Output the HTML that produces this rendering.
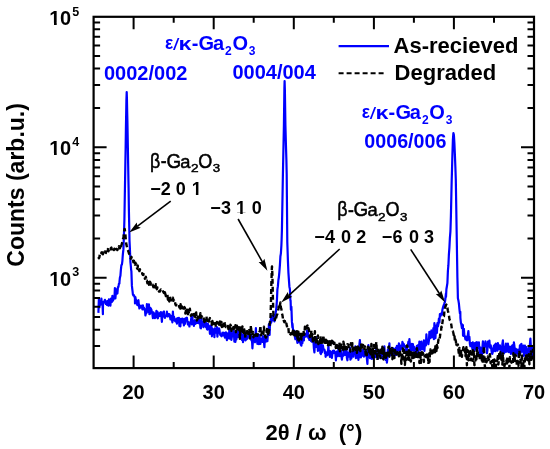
<!DOCTYPE html><html><head><meta charset="utf-8"><style>html,body{margin:0;padding:0;background:#fff;overflow:hidden;}svg{display:block}</style></head><body>
<svg width="550" height="449" viewBox="0 0 550 449">
<defs><clipPath id="pc"><rect x="93.6" y="16.8" width="440.4" height="351.3"/></clipPath></defs>
<g clip-path="url(#pc)" fill="none" stroke-linejoin="round">
<path d="M98.4,312.9 L98.9,298.2 L99.4,307.3 L99.9,303.9 L100.4,304 L100.9,304.5 L101.4,298.6 L101.9,303.9 L102.4,301.7 L102.9,314.2 L103,304.7 L103.4,302.7 L103.9,302.7 L104.4,301.2 L104.9,299.8 L105.4,301.6 L105.9,303.9 L106.4,301.5 L106.9,304.8 L107.4,301.1 L107.9,301.5 L108.4,305.7 L108.6,302.6 L108.9,299.3 L109.4,300 L109.9,301.8 L110.4,305.6 L110.9,298.8 L111.4,298.5 L111.9,301.8 L112.4,295.9 L112.9,297.2 L113,300.6 L113.4,299.3 L113.9,297.5 L114.4,298.6 L114.9,288.1 L115.4,298.4 L115.9,292.1 L116.4,289.3 L116.9,293.7 L117.4,293.3 L117.8,289 L117.9,287.2 L118.4,287.1 L118.9,283.8 L119.4,283.6 L119.5,281.5 L119.9,277.7 L120.4,275.8 L120.9,269.6 L121.4,265 L121.9,264.6 L122.4,260.8 L122.6,257.6 L122.9,253.8 L123.4,249.4 L123.9,236.4 L124.4,219.7 L124.9,190.5 L125.4,160.7 L125.6,150 L125.9,129.6 L126.2,112.4 L126.4,100.8 L126.7,92.1 L126.9,97.5 L127.2,112.5 L127.4,120.7 L127.9,149.7 L128.4,178.9 L128.6,189.4 L128.9,210.3 L129.4,234.8 L129.5,240.5 L129.9,248.5 L130.4,261.8 L130.9,266.9 L131.1,269.3 L131.4,271.4 L131.9,285.9 L132.4,290.1 L132.6,291.7 L132.9,294.5 L133.4,295.4 L133.9,295.2 L134.4,296.5 L134.9,297.8 L135,303.4 L135.4,297.2 L135.9,300.1 L136.4,301.6 L136.9,303.6 L137.4,305.1 L137.9,300.9 L138.4,300.1 L138.9,305 L139.4,308.5 L139.9,307.7 L140.4,306.7 L140.9,305.6 L141.4,307.5 L141.9,306.4 L142.4,309.4 L142.9,305.4 L143.4,308.1 L143.9,307.7 L144.4,309.7 L144.9,309.1 L145.4,315.5 L145.9,313 L146.4,313.3 L146.9,304.1 L147.4,308.9 L147.9,308.4 L148.4,311.8 L148.9,304.4 L149.4,314.1 L149.9,314 L150.4,307.8 L150.9,309 L151.4,309.7 L151.9,312.3 L152.4,314.1 L152.9,318.2 L153.4,312.3 L153.9,315.1 L154.4,313.6 L154.9,318.2 L155.4,315.6 L155.9,317.4 L156.4,310.8 L156.9,313.4 L157.4,311.7 L157.9,318.3 L158.4,316.1 L158.9,313.5 L159.4,313.2 L159.9,315.9 L160.4,312.6 L160.9,312.1 L161.4,316.1 L161.9,321.8 L162.4,314.3 L162.9,313.5 L163.4,311.9 L163.9,311.5 L164.4,316.8 L164.9,317.9 L165,315.5 L165.4,316.5 L165.9,316 L166.4,316.2 L166.9,311.6 L167.4,314.8 L167.9,316.5 L168.4,314.1 L168.9,315.1 L169.4,314.2 L169.9,315.8 L170.4,319.3 L170.9,315.8 L171,316.6 L171.4,319.4 L171.9,319.1 L172.4,322.3 L172.9,311.6 L173.4,320.2 L173.9,316.5 L174.4,318.5 L174.9,320.7 L175.4,321.5 L175.9,321.6 L176.4,319.2 L176.9,323.6 L177.4,318.2 L177.9,318.8 L178.4,321.7 L178.9,317.9 L179.4,326 L179.9,322.8 L180.4,326.3 L180.6,319.9 L180.9,318.9 L181.4,320.7 L181.9,322.5 L182.4,318.7 L182.9,321.6 L183.4,320.6 L183.9,325.5 L184.4,318.8 L184.9,324 L185.4,319.1 L185.9,318.2 L186.4,319 L186.9,317.7 L187.4,321.7 L187.9,324.5 L188.4,322 L188.9,323.4 L189.4,326.5 L189.9,322.5 L190.4,322.4 L190.9,321.1 L191.4,317.2 L191.9,324.3 L192.4,316.9 L192.9,324.2 L193.4,322.3 L193.9,325.9 L194.4,322.4 L194.9,320.2 L195.4,323.9 L195.9,321.2 L196.2,322.5 L196.4,323.2 L196.9,322.8 L197.4,322.8 L197.9,321 L198.4,323.1 L198.9,317.3 L199.4,323.5 L199.9,320.5 L200.4,327.8 L200.9,328.4 L201.4,318.8 L201.9,325.4 L202.4,324.8 L202.9,322.1 L203.4,327.2 L203.9,324.3 L204.4,320.5 L204.9,325.4 L205.4,326 L205.9,327 L206.4,323 L206.9,329 L207.4,329.6 L207.9,323.9 L208.4,325.6 L208.9,327.6 L209.4,326.3 L209.9,333.8 L210.4,329.1 L210.9,325.5 L211.4,326.4 L211.8,328.8 L211.9,336.3 L212.4,328.6 L212.9,329.8 L213.4,331.2 L213.9,329.6 L214.4,337.2 L214.9,328.4 L215.4,332.7 L215.9,331 L216.4,332.6 L216.9,327 L217.4,336.7 L217.9,330.7 L218.4,331.4 L218.9,328.4 L219.4,329.3 L219.9,333.7 L220.4,335.2 L220.9,334.6 L221.4,336.3 L221.9,334.8 L222.4,332.7 L222.9,335.5 L223.4,334.9 L223.9,332.7 L224.4,335.6 L224.9,337.6 L225.4,334.3 L225.9,332.4 L226.4,336.1 L226.9,340.2 L227.4,333.3 L227.9,333.8 L228.4,333.8 L228.9,338.4 L229.4,328.3 L229.9,335.8 L230.4,338.7 L230.9,332.1 L231.4,339.9 L231.9,336.8 L232.4,333.3 L232.9,335.9 L233.4,330.2 L233.9,333.5 L234.4,341.7 L234.9,332.6 L235.4,341.9 L235.9,335.5 L236.4,339.3 L236.9,336.1 L237.4,328.5 L237.9,334.2 L238.4,336.9 L238.9,332.4 L239.4,331.8 L239.9,337.8 L240.4,334.4 L240.9,330.9 L241.4,334.4 L241.9,339.8 L242.4,335.3 L242.9,340.2 L243,342.2 L243.4,337.2 L243.9,333.3 L244.4,332.8 L244.9,337.2 L245.4,340.4 L245.9,338.4 L246.4,339.4 L246.9,336.1 L247.4,338.7 L247.9,336.1 L248.4,336.7 L248.9,333.4 L249.4,332.5 L249.9,336.3 L250.4,334.2 L250.9,334.8 L251.4,340.5 L251.9,337.9 L252.4,348.3 L252.9,341.5 L253.4,336.2 L253.9,341.1 L254.4,339.7 L254.9,336.1 L255,342.3 L255.4,335.8 L255.9,328 L256.4,341.3 L256.9,336.5 L257.4,343.8 L257.9,336.4 L258.4,334.6 L258.9,344.1 L259.4,335 L259.9,339.5 L260.4,343.9 L260.9,339.3 L261.4,338.6 L261.9,339.3 L262.4,341.8 L262.9,336.1 L263.4,341.1 L263.9,341 L264.4,347.1 L264.9,337.8 L265.4,335.8 L265.9,341.6 L266,337.6 L266.4,339.8 L266.9,338.7 L267.4,341.2 L267.9,333.6 L268.4,334 L268.9,324.2 L269.4,327.9 L269.6,334.9 L269.9,326.4 L270.4,323.2 L270.9,318.6 L271.2,322.7 L271.4,321 L271.9,315.9 L272.4,320.5 L272.9,318.8 L273.4,319.7 L273.9,315.2 L274.4,321.4 L274.9,316.8 L275.4,314.2 L275.9,311.6 L276.4,307.1 L276.9,300.7 L277.4,289.4 L277.9,286.2 L278.4,280 L278.9,277 L279.4,271.6 L279.9,265.2 L280.4,256.5 L280.9,253.3 L281.4,245.3 L281.6,240.2 L281.9,230.8 L282.4,202.9 L282.9,174.7 L283.4,150.1 L283.9,125.7 L284.4,87.7 L284.6,81 L284.9,91.3 L285.4,124.9 L285.9,143.9 L286.4,160.3 L286.7,174.4 L286.9,197 L287.3,242.1 L287.4,245.1 L287.9,260.2 L288.4,272.3 L288.9,279.6 L289.4,286.7 L289.9,289.1 L290.4,300.7 L290.6,300.6 L290.9,309.8 L291.4,306.8 L291.9,321.4 L292.4,327.3 L292.5,323.9 L292.9,328.6 L293.4,331.8 L293.9,333 L294.4,330.7 L294.6,332.5 L294.9,337.1 L295.4,339.2 L295.9,336.4 L296.4,337.5 L296.9,339 L297.4,342.9 L297.9,336.5 L298.4,336.3 L298.9,342.2 L299.4,338.3 L299.9,340.6 L300.4,343.2 L300.8,344.7 L300.9,339.1 L301.4,345.6 L301.9,335.7 L302.4,343.1 L302.9,334.6 L303.4,334.7 L303.9,340.4 L304,336.6 L304.4,334.5 L304.9,334.7 L305.4,336.7 L305.9,333.9 L306.4,333.3 L306.9,336.5 L307,330.6 L307.4,331.5 L307.9,331.7 L308.4,337.9 L308.9,338 L309.4,339.9 L309.9,336.2 L310.4,336.6 L310.9,340.8 L311,336.6 L311.4,341.4 L311.9,341.7 L312.4,337.5 L312.9,340.4 L313.4,341 L313.9,348.4 L314.4,352.4 L314.9,343.5 L315.4,344.7 L315.9,337 L316.4,346.9 L316.9,346.8 L317.4,343.5 L317.9,351 L318.4,342.7 L318.9,348.2 L319.4,350 L319.9,345 L320.4,353.2 L320.9,354 L321,344.7 L321.4,344.6 L321.9,352.3 L322.4,349.9 L322.9,345.4 L323.4,348.9 L323.9,349.6 L324.4,349.5 L324.9,353.2 L325.4,351.5 L325.6,356.8 L325.9,355.3 L326.4,352.6 L326.9,354.2 L327.4,355.2 L327.9,352.9 L328.4,345.6 L328.9,353.8 L329.4,350.9 L329.9,357 L330.4,351.3 L330.9,353.1 L331.4,352.5 L331.9,358 L332.4,352.3 L332.9,350.8 L333.4,353.2 L333.9,350.5 L334.4,353 L334.9,352.5 L335.4,353.8 L335.9,360.5 L336.4,351.5 L336.9,353.4 L337.4,352.6 L337.9,356.2 L338.4,349 L338.9,351 L339.4,353.7 L339.9,356.1 L340.4,353.8 L340.9,352 L341.2,350.6 L341.4,356 L341.9,359.7 L342.4,355.3 L342.9,354.7 L343.4,355.7 L343.9,350.2 L344.4,352.7 L344.9,352.8 L345.4,355 L345.9,353.7 L346.4,348.9 L346.9,358.1 L347.4,360.3 L347.9,352.6 L348.4,355.1 L348.9,354.6 L349.4,356.6 L349.9,347.6 L350.4,359.7 L350.9,351.5 L351.4,358.3 L351.9,353.6 L352.4,351.7 L352.9,352.6 L353.4,356.7 L353.9,349.7 L354.4,351.6 L354.9,351.1 L355.4,346.3 L355.9,358.1 L356.4,355.3 L356.8,352.9 L356.9,357.6 L357.4,349.2 L357.9,352.7 L358.4,359.8 L358.9,356.9 L359.4,344.3 L359.9,340 L360.4,349 L360.9,357.4 L361.4,351.3 L361.9,352.4 L362.4,355.7 L362.9,349.8 L363.4,354.2 L363.9,356.6 L364.4,355.3 L364.9,355.1 L365.4,351.2 L365.9,355.7 L366.4,352 L366.9,358.9 L367.4,363.9 L367.9,350.9 L368.4,345.2 L368.9,352.2 L369.4,355.4 L369.9,358.1 L370.4,358.2 L370.9,350.9 L371.4,350.8 L371.9,359 L372.4,349.7 L372.9,358.3 L373.4,353.1 L373.9,357 L374.4,356.8 L374.9,357 L375.4,357.2 L375.9,350 L376.4,355.1 L376.9,354 L377.4,355.1 L377.9,358.7 L378.4,352.8 L378.9,351 L379.4,350.9 L379.9,352.5 L380.4,356.7 L380.9,350.4 L381.4,358.2 L381.9,354.7 L382.4,352.7 L382.9,348.2 L383.4,354.4 L383.9,356.1 L384.4,346.4 L384.9,358 L385.4,359.8 L385.9,354.6 L386.4,355.1 L386.9,362.6 L387.4,357.9 L387.9,349.5 L388,352.9 L388.4,352.3 L388.9,352.3 L389.4,343.4 L389.9,355.5 L390.4,349.9 L390.9,352.8 L391.4,351.4 L391.9,355.1 L392.4,350.3 L392.9,348.1 L393.4,353 L393.9,356.1 L394.4,349.1 L394.9,355.3 L395.4,350.8 L395.9,347.5 L396.4,355 L396.9,345.8 L397.4,352.5 L397.9,346.5 L398.4,349.9 L398.9,343.3 L399.4,344.6 L399.9,351.5 L400.4,348.1 L400.9,347.4 L401.4,345.5 L401.9,348.7 L402.4,341.8 L402.8,342.8 L402.9,346.4 L403.4,343.9 L403.9,344.4 L404.4,346.7 L404.9,346.5 L405.4,346.2 L405.9,353.2 L406.4,350.8 L406.9,351.6 L407.4,346.9 L407.9,345.1 L408.4,341.6 L408.9,345.7 L409.4,339.2 L409.9,344.8 L410.4,349.9 L410.9,353 L411.4,350.6 L411.9,343.8 L412.4,348.8 L412.9,344.1 L413.4,350.1 L413.9,346.6 L414.4,350.2 L414.9,356.6 L415.4,350.4 L415.9,355.7 L416.4,347.7 L416.9,345.8 L417.4,352 L417.9,353.4 L418.4,344.9 L418.9,347.3 L419.4,341.6 L419.9,346.3 L420.4,350.3 L420.6,346.7 L420.9,344.9 L421.4,341.6 L421.9,348 L422.4,349.3 L422.9,348.2 L423.4,346.5 L423.9,340.4 L424.4,351 L424.9,343.8 L425.4,342.9 L425.9,345.4 L426.4,334.4 L426.9,341.2 L427.4,340.3 L427.9,341.4 L428.4,344.2 L428.9,340.5 L429.4,331.9 L429.6,336.8 L429.9,338.4 L430.4,337.6 L430.9,332.2 L431.4,330.5 L431.9,337.4 L432.4,336.2 L432.9,334.4 L433.4,328.2 L433.9,339.2 L434.4,323.2 L434.9,330.8 L435.4,338.1 L435.9,329.9 L436.4,330.3 L436.7,325.2 L436.9,332.9 L437.4,323.2 L437.9,326.4 L438.4,324.2 L438.9,318.7 L439.4,322.5 L439.9,314 L440.3,314.7 L440.4,316.3 L440.9,313.7 L441.4,314.7 L441.9,314.6 L442.4,309.8 L442.9,307.7 L443.4,306.1 L443.8,305 L443.9,307.7 L444.4,303 L444.9,302.4 L445.4,298.5 L445.9,293.7 L446,297 L446.4,289.2 L446.9,286.2 L447.4,283.1 L447.9,271 L448.4,265.2 L448.9,254.3 L449.4,247.6 L449.9,237.8 L450.4,231.6 L450.5,229.3 L450.9,216.1 L451.4,193.7 L451.7,180.2 L451.9,173.6 L452.4,154.8 L452.9,139.7 L453.4,133.1 L453.9,135.1 L454.4,143.2 L454.9,155 L455.4,167.9 L455.8,179.5 L455.9,185.4 L456.4,216.3 L456.6,229.2 L456.9,247.2 L457.4,277.5 L457.7,289.4 L457.9,298.3 L458.4,300.4 L458.9,303.7 L459.4,308.9 L459.9,313.4 L460.3,311.8 L460.4,317.8 L460.9,322.8 L461.4,324.6 L461.9,328.2 L462.4,324.6 L462.9,325.2 L463,335.2 L463.4,335.9 L463.9,328.8 L464.4,336 L464.9,336.6 L465.4,339.4 L465.7,338.7 L465.9,336.6 L466.4,339.7 L466.9,340.3 L467.4,340.2 L467.9,334.5 L468.4,331 L468.9,339.4 L469.4,336.9 L469.9,344.1 L470.4,346.2 L470.9,345 L471.4,343 L471.9,344.9 L472.4,349.1 L472.8,342.3 L472.9,348.4 L473.4,347.8 L473.9,346.3 L474.4,350.8 L474.9,343 L475.4,349.2 L475.9,342.5 L476.4,343.2 L476.9,342.2 L477.4,347.9 L477.9,342.9 L478.4,346.6 L478.9,342.3 L479.4,350.6 L479.9,353.6 L480.4,347.7 L480.9,353 L481.4,349.1 L481.9,355.2 L482.4,347.5 L482.9,341.3 L483.4,352.8 L483.9,346.9 L484.4,343.5 L484.9,345 L485.4,341.4 L485.9,346.9 L486.4,343.6 L486.9,353.2 L487.4,350.2 L487.9,341.5 L488.4,342.1 L488.9,345.7 L489.4,340.7 L489.9,347.5 L490.4,347.8 L490.6,345.1 L490.9,346 L491.4,349.9 L491.9,353.5 L492.4,353.8 L492.9,348.3 L493.4,351.4 L493.9,345.5 L494.4,349.8 L494.9,344.7 L495.4,351.1 L495.9,343.7 L496.4,344.8 L496.9,348.4 L497.4,350.6 L497.9,343.1 L498.4,346.5 L498.9,349.1 L499.4,349.4 L499.9,345.4 L500.4,349 L500.9,347.6 L501.4,354 L501.9,350.8 L502.4,343.7 L502.9,340.4 L503.4,349.1 L503.9,353.3 L504.4,349.5 L504.9,352.2 L505.4,347 L505.9,343.7 L506.4,351.7 L506.9,349.3 L507.4,351.5 L507.9,343.7 L508.4,349.7 L508.5,346.6 L508.9,352.1 L509.4,346.8 L509.9,346.8 L510.4,346.9 L510.9,353.9 L511.4,349.2 L511.9,346.3 L512.4,345.3 L512.9,345.2 L513.4,354.8 L513.9,342.3 L514.4,346 L514.9,351.7 L515.4,353.8 L515.9,348.8 L516.4,352.4 L516.9,352.3 L517.4,353.2 L517.9,349.6 L518.4,355.8 L518.9,350.3 L519.4,355.4 L519.9,345.4 L520.4,353.2 L520.9,344.8 L521.4,343.9 L521.9,351.6 L522.4,346.6 L522.9,351.5 L523.4,345.7 L523.9,355.9 L524.4,349.9 L524.9,345.5 L525.4,350.6 L525.9,353.3 L526.4,347 L526.9,351.9 L527.4,357.8 L527.9,353.3 L528.4,350 L528.9,347.9 L529.4,352.3 L529.9,344.3 L530.4,338.5 L530.9,347.6 L531.4,346 L531.9,356.9 L532.4,350.7 L532.9,346.4 L533,345.8" stroke="#0000ff" stroke-width="2.2"/>
<path d="M98.4,257.1 L98.9,258.3 L99.4,257.2 L99.9,253.7 L100.4,253.2 L100.9,252.2 L101.4,253.3 L101.5,252.4 L101.9,253.4 L102.4,249.8 L102.9,254.3 L103.4,252 L103.9,253 L104.4,251.9 L104.9,251.5 L105.4,252.5 L105.9,252.9 L106,251.5 L106.4,251.5 L106.9,252.4 L107.4,250.1 L107.9,249.1 L108.4,251.3 L108.9,249.7 L109.4,247.8 L109.9,249 L110.4,249.2 L110.9,248.1 L111.4,247.6 L111.5,249.5 L111.9,250.6 L112.4,249 L112.9,248.3 L113.4,249.7 L113.9,250.1 L114.4,248.7 L114.9,249.7 L115,250.3 L115.4,248.7 L115.9,247.8 L116.4,249.3 L116.9,249.1 L117.4,250.1 L117.9,247 L118.4,247.6 L118.9,247.3 L119,246.1 L119.4,248.2 L119.9,248.2 L120.4,245.9 L120.9,247.5 L121.4,245 L121.6,244.5 L121.9,243.6 L122.4,242 L122.9,239.2 L123.4,237.2 L123.6,236.2 L123.9,233.3 L124.4,229.6 L124.6,228.9 L124.9,230.1 L125.4,234.5 L125.9,240.5 L126.4,244.8 L126.9,246.6 L127.4,248.9 L127.9,250.1 L128.4,251.7 L128.7,252.1 L128.9,253.2 L129.4,254.3 L129.9,255.2 L130.4,256.8 L130.5,257.5 L130.9,258.7 L131.4,256.8 L131.9,259.6 L132.4,260 L132.9,260.3 L133,259.6 L133.4,262.2 L133.9,260.8 L134.4,263.2 L134.9,264.6 L135.4,262.6 L135.9,264.6 L136.4,264.3 L136.5,265.9 L136.9,267.7 L137.4,268.9 L137.9,265.8 L138.4,267.6 L138.9,269.5 L139.4,271.1 L139.8,270.4 L139.9,269.3 L140.4,271.2 L140.9,271.5 L141.4,272.1 L141.9,272.2 L142.4,274.2 L142.8,274.7 L142.9,274.3 L143.4,274.9 L143.9,274.3 L144.4,275.9 L144.9,278.7 L145.4,277.7 L145.9,276.8 L146.4,281 L146.9,280.6 L147.4,283.2 L147.9,281.1 L148.2,280.7 L148.4,279.5 L148.9,283.8 L149.4,286 L149.9,281.7 L150.4,282.4 L150.9,284.5 L151.4,282.9 L151.9,284.1 L152.4,284.3 L152.9,285.5 L153.4,287.2 L153.9,286 L154.4,287.7 L154.9,286 L155.4,287.5 L155.9,284.1 L156.4,285.5 L156.9,289.3 L157.4,287.4 L157.9,289.6 L158.4,289.9 L158.9,291.4 L159.4,290.9 L159.9,291.6 L160.4,290.1 L160.9,289.4 L161.4,289.7 L161.9,290.4 L162.4,289.6 L162.9,290.9 L163.4,292.1 L163.9,293 L164.4,292.4 L164.9,290 L165,293.3 L165.4,294.1 L165.9,296.1 L166.4,295.6 L166.9,293.9 L167.4,294.2 L167.9,299.7 L168.4,297.9 L168.9,300.4 L169.4,301.5 L169.9,296.4 L170.4,299.2 L170.9,299.8 L171,300.1 L171.4,300.4 L171.9,300.2 L172.4,300.6 L172.9,297.7 L173.4,300.9 L173.9,300.2 L174.4,302.4 L174.9,301.7 L175.4,304.4 L175.9,305.3 L176.4,304.7 L176.9,305.2 L177.4,305.1 L177.9,304.3 L178.4,305.4 L178.9,305 L179.4,307.4 L179.9,306.9 L180.4,308.6 L180.6,304.3 L180.9,309.7 L181.4,306.1 L181.9,306.5 L182.4,308.1 L182.9,307.5 L183.4,309.9 L183.9,308.1 L184.4,307.1 L184.9,307.9 L185.4,313.6 L185.9,310.7 L186.4,307.9 L186.9,311.1 L187.4,307.4 L187.9,316.2 L188.4,308 L188.9,313.4 L189.4,313.8 L189.9,308.8 L190.4,313.7 L190.9,315.7 L191.4,314.6 L191.9,314.3 L192.4,316.3 L192.9,314.5 L193.4,315.2 L193.9,314.1 L194.4,316.4 L194.9,312.3 L195.4,317.3 L195.9,314 L196.2,312.5 L196.4,316.6 L196.9,320.5 L197.4,318.7 L197.9,314.8 L198.4,318.4 L198.9,315.4 L199.4,316.5 L199.9,317.3 L200.4,313.1 L200.9,317.8 L201.4,315.8 L201.9,316.6 L202.4,315.4 L202.9,315.5 L203.4,316.7 L203.9,320.2 L204.4,322 L204.9,319 L205.4,321.3 L205.9,318.9 L206.4,316 L206.9,320.1 L207.4,320.8 L207.9,319.3 L208.4,320.9 L208.9,321.6 L209.4,319 L209.9,318 L210.4,320.6 L210.9,320.8 L211.4,320.7 L211.8,323.4 L211.9,324.9 L212.4,320.9 L212.9,323.3 L213.4,323.9 L213.9,323.6 L214.4,324.4 L214.9,321.7 L215.4,324.2 L215.9,326.9 L216.4,324.6 L216.9,321.9 L217.4,324.5 L217.9,326 L218.4,324.3 L218.9,322.5 L219.4,327.1 L219.9,321.4 L220.4,325.2 L220.9,324.3 L221.4,321.9 L221.9,327.1 L222.4,325.5 L222.9,322.4 L223.4,326.3 L223.9,324.2 L224.4,321.2 L224.9,324 L225.4,326.2 L225.9,327.1 L226.4,326.3 L226.9,326.1 L227.4,327.2 L227.9,325.9 L228.4,329.1 L228.9,327 L229.4,327.5 L229.9,328.2 L230.4,324.8 L230.9,325.8 L231.4,330.9 L231.9,328.5 L232.4,327.2 L232.9,328.8 L233.4,327.1 L233.9,329 L234.4,327.1 L234.9,329.4 L235.4,325.3 L235.9,332.2 L236.4,328.1 L236.9,325.7 L237.4,329.1 L237.9,328.9 L238.4,330.2 L238.9,327.3 L239.4,331.1 L239.9,338.9 L240.4,327.4 L240.9,331.4 L241.4,329.9 L241.9,331.2 L242.4,326.5 L242.9,328.2 L243,332.1 L243.4,331 L243.9,335.1 L244.4,329.5 L244.9,331.7 L245.4,338.5 L245.9,329.6 L246.4,329.4 L246.9,331.5 L247.4,331.6 L247.9,333.8 L248.4,332.2 L248.9,330.1 L249.4,332.5 L249.9,338.5 L250.4,335.2 L250.9,325.3 L251.4,331.9 L251.9,330.1 L252.4,333.8 L252.9,331.9 L253.4,337.2 L253.9,334.7 L254.4,334.7 L254.9,333 L255,332.4 L255.4,333.4 L255.9,335.8 L256.4,333.9 L256.9,331.7 L257.4,335.8 L257.9,333.1 L258.4,332.5 L258.9,330.7 L259.4,331.3 L259.9,331.2 L260.4,325.8 L260.9,335.4 L261.4,334.3 L261.9,332.3 L262.4,335.5 L262.9,334 L263.4,333.9 L263.9,326.7 L264.4,332.4 L264.9,334.3 L265.4,337 L265.9,337.6 L266.4,336.6 L266.9,330.1 L267.4,327.5 L267.9,334.4 L268,333.1 L268.4,334.5 L268.9,330.7 L269.4,328.6 L269.9,322 L270.4,320.7 L270.9,304.8 L271.4,282.3 L271.9,267.3 L272,266.4 L272.4,275 L272.9,297.4 L273.4,315.2 L273.5,315.7 L273.9,315.1 L274.4,316 L274.9,320 L275.4,317.7 L275.9,319.4 L276,318.6 L276.4,316.7 L276.9,315 L277.4,313.9 L277.9,311.3 L278.4,309 L278.9,304.5 L279.4,303.8 L279.8,303.9 L279.9,305.8 L280.4,302.4 L280.9,307.6 L281.4,309.2 L281.9,313.4 L282.4,314.9 L282.9,318.2 L283,320.3 L283.4,319.6 L283.9,321 L284.4,322.2 L284.9,321 L285.4,324.5 L285.9,323.9 L286.4,323.5 L286.8,325.9 L286.9,325.7 L287.4,328.9 L287.9,328.2 L288.4,328.1 L288.9,333.8 L289.4,333.8 L289.9,335.4 L290.4,334.6 L290.9,333.3 L291.4,332.9 L291.5,333.3 L291.9,336.6 L292.4,334.6 L292.9,330.6 L293.4,334.5 L293.9,331.1 L294.4,335.4 L294.9,331.9 L295.4,331.9 L295.9,335.6 L296.4,335.2 L296.9,331.1 L297.4,337.6 L297.9,341.4 L298.4,331.8 L298.9,340.6 L299.4,334 L299.9,334.6 L300.4,335.5 L300.9,332.1 L301.4,339.5 L301.9,337.3 L302.4,334 L302.9,335 L303.4,330.9 L303.9,332.9 L304.4,334.7 L304.9,326.8 L305.4,328.5 L305.9,328.6 L306.4,329.8 L306.9,330 L307,326 L307.4,325.5 L307.9,328.9 L308.4,328.1 L308.9,329.4 L309.4,334.2 L309.9,337.1 L310.4,334.7 L310.9,334.4 L311,336.5 L311.4,330.4 L311.9,335.9 L312.4,333.6 L312.9,343.4 L313.4,339.3 L313.9,338.1 L314.4,337.5 L314.9,331.3 L315.4,340.7 L315.9,343.7 L316.4,337.2 L316.9,341.5 L317.4,341.8 L317.9,335.5 L318,342.7 L318.4,344.1 L318.9,341 L319.4,340.3 L319.9,343 L320.4,336.2 L320.9,341.2 L321.4,344.1 L321.9,337.4 L322.4,344.2 L322.9,340.1 L323.4,335.2 L323.9,341.3 L324.4,338.8 L324.9,342.8 L325.4,338.4 L325.6,345.2 L325.9,339.8 L326.4,343.3 L326.9,340.6 L327.4,341.6 L327.9,346.4 L328.4,343.5 L328.9,341.8 L329.4,339.3 L329.9,347 L330.4,345.9 L330.9,342.7 L331.4,344.7 L331.9,340.8 L332.4,341.1 L332.9,341.8 L333.4,345.8 L333.9,345.8 L334.4,342.6 L334.9,347.6 L335.4,347.9 L335.9,346.1 L336.4,349.1 L336.9,344.9 L337.4,345.6 L337.9,347.7 L338.4,346.1 L338.9,349 L339.4,342.3 L339.9,351.3 L340.4,344 L340.9,346.2 L341.2,342.2 L341.4,348.9 L341.9,351.2 L342.4,350.6 L342.9,349.9 L343.4,341.8 L343.9,344.5 L344.4,345.6 L344.9,344.1 L345.4,351.1 L345.9,348 L346.4,347.3 L346.9,349.1 L347.4,344.3 L347.9,344.4 L348.4,344.6 L348.9,349.3 L349.4,348.8 L349.9,349.7 L350.4,351.5 L350.9,343.1 L351.4,345.9 L351.9,348.4 L352.4,343.3 L352.9,346.1 L353.4,351.5 L353.9,351.9 L354.4,351.8 L354.9,348.3 L355.4,347.5 L355.9,352 L356.4,347.1 L356.8,349.6 L356.9,353 L357.4,347.2 L357.9,346.4 L358.4,348.6 L358.9,350.8 L359.4,350.5 L359.9,349.5 L360.4,351 L360.9,343.5 L361.4,346.2 L361.9,350 L362.4,346.2 L362.9,344.8 L363.4,345.4 L363.9,346.6 L364.4,349.4 L364.9,346.4 L365.4,351.1 L365.9,356.5 L366.4,349.9 L366.9,355.2 L367.4,351.8 L367.9,346.7 L368.4,350 L368.9,347.4 L369.4,353.9 L369.9,346.9 L370.4,356.2 L370.9,353.5 L371.4,343.9 L371.9,354.4 L372.4,357.3 L372.9,348.6 L373.4,355.2 L373.9,344.9 L374.4,352.6 L374.9,345.5 L375.4,353.5 L375.9,345 L376.4,341.9 L376.9,353.3 L377.4,360.3 L377.9,349.6 L378.4,354.9 L378.9,352.3 L379.4,350.7 L379.9,354.2 L380.4,358.1 L380.9,347.3 L381.4,354.1 L381.9,353.3 L382.4,346.6 L382.9,358.1 L383.4,359.4 L383.9,348.5 L384.4,358.6 L384.9,352.3 L385.4,351.5 L385.9,357.8 L386.4,353 L386.9,353.4 L387.4,358 L387.9,357.2 L388,355.7 L388.4,347 L388.9,346.4 L389.4,356.7 L389.9,349 L390.4,353.2 L390.9,348.6 L391.4,352.1 L391.9,348 L392.4,359.2 L392.9,349.2 L393.4,352.7 L393.9,352.6 L394.4,358.1 L394.9,348 L395.4,353.5 L395.9,352.9 L396.4,355.9 L396.9,355.8 L397.4,352.3 L397.9,355.1 L398.4,352.8 L398.9,356.3 L399.4,354.1 L399.9,352 L400.4,354.6 L400.9,356.2 L401.4,363.9 L401.9,352.9 L402.4,356.2 L402.8,360.9 L402.9,346.7 L403.4,348.1 L403.9,350.3 L404.4,354.7 L404.9,365 L405.4,356.8 L405.9,360.1 L406.4,354.4 L406.9,345.4 L407.4,346.1 L407.9,359.5 L408.4,356.2 L408.9,350.3 L409.4,360.1 L409.9,349.3 L410.4,360.2 L410.9,361.5 L411.4,352.6 L411.9,351.2 L412.4,359.2 L412.9,351.3 L413.4,359.3 L413.9,351 L414.4,359.1 L414.9,356.2 L415.4,354.1 L415.9,352.3 L416.4,356.9 L416.9,348.2 L417.4,354.8 L417.9,354.4 L418.4,358.8 L418.9,350.9 L419.4,363 L419.9,354.7 L420.4,351.3 L420.6,361.7 L420.9,362.8 L421.4,355.2 L421.9,352.3 L422.4,356 L422.9,353 L423.4,354.5 L423.9,362 L424.4,357.2 L424.9,356.1 L425.4,356.7 L425.9,355 L426.4,358.5 L426.9,358.4 L427.4,353.3 L427.9,355 L428.4,364 L428.9,355.9 L429.4,353.3 L429.6,362 L429.9,353.9 L430.4,349.4 L430.9,356 L431.4,349.6 L431.9,350.7 L432.4,353.4 L432.9,351.3 L433.4,348.4 L433.9,348.6 L434.4,347.9 L434.9,353.5 L435.4,346.1 L435.9,345.9 L436.4,351.1 L436.9,345 L437.4,348.1 L437.5,347.6 L437.9,343.7 L438.4,339.8 L438.9,341.1 L439.4,339.1 L439.9,337 L440.4,333.1 L440.9,332.2 L441,332 L441.4,326.6 L441.9,327.2 L442.4,322.8 L442.9,319.1 L443.4,316.7 L443.9,316.3 L444.2,314 L444.4,310.3 L444.9,309.3 L445.4,306.7 L445.9,305.4 L446,305.1 L446.4,304.6 L446.9,307.7 L447.4,308 L447.9,310.7 L448.4,312.9 L448.9,315.1 L449.4,318.8 L449.9,320.4 L450.4,321.1 L450.9,322.8 L451.4,325.3 L451.9,329.3 L452.4,330.1 L452.7,331.3 L452.9,331.3 L453.4,333.2 L453.9,335.9 L454.4,334.3 L454.9,342 L455.4,339.5 L455.9,341.4 L456.3,346 L456.4,344.2 L456.9,345.1 L457.4,345.2 L457.9,344.5 L458.4,349.6 L458.9,354.4 L459.4,347.9 L459.9,357.2 L460.4,348.6 L460.9,350.7 L461.4,355.9 L461.6,354 L461.9,356.8 L462.4,351.3 L462.9,350.3 L463.4,347.2 L463.9,349.9 L464.4,350.5 L464.9,349.2 L465.4,356.2 L465.9,352.4 L466.4,347.2 L466.9,365.2 L467.4,351.9 L467.9,350.3 L468.4,360.4 L468.9,360.2 L469.4,350.9 L469.9,349.6 L470.4,351.6 L470.9,360.3 L471.4,354.5 L471.9,352.6 L472.4,355.8 L472.8,360.9 L472.9,350.3 L473.4,354.5 L473.9,350.5 L474.4,365.2 L474.9,363.9 L475.4,360.4 L475.9,356 L476.4,359.4 L476.9,348 L477.4,358 L477.9,351.4 L478.4,351.5 L478.9,354.2 L479.4,355.8 L479.9,359.8 L480.4,360.4 L480.9,358.7 L481.4,353.6 L481.9,360.6 L482.4,357.3 L482.9,362.9 L483.4,354.1 L483.9,346.3 L484.4,356.1 L484.9,367.5 L485.4,360.4 L485.9,357.6 L486.4,362.3 L486.9,360.7 L487.4,360.6 L487.9,356.5 L488.4,359.1 L488.9,359.7 L489.4,356.1 L489.9,354.1 L490.4,359.6 L490.6,363.2 L490.9,361.8 L491.4,361.2 L491.9,361.3 L492.4,367.6 L492.9,360.3 L493.4,363.8 L493.9,367.6 L494.4,359.5 L494.9,360.5 L495.4,364 L495.9,366.8 L496.4,360.8 L496.9,361.1 L497.4,359.9 L497.9,354.3 L498.4,364.5 L498.9,358.5 L499.4,352.1 L499.9,359.1 L500.4,352.1 L500.9,355.3 L501.4,359.9 L501.9,355.8 L502.4,364.6 L502.9,353.4 L503.4,361.1 L503.9,362.4 L504.4,366.4 L504.9,364.1 L505.4,361 L505.9,360.4 L506.4,359.8 L506.9,365.1 L507.4,357.1 L507.9,362.4 L508.4,359.6 L508.5,361.1 L508.9,358.9 L509.4,367.6 L509.9,357.1 L510.4,361.2 L510.9,361.3 L511.4,362.7 L511.9,362 L512.4,361.9 L512.9,364.3 L513.4,353.3 L513.9,360 L514.4,354.5 L514.9,360.9 L515.4,354.6 L515.9,355.6 L516.4,359.6 L516.9,366 L517.4,362.3 L517.9,361.1 L518.4,365.9 L518.9,355.5 L519.4,350.4 L519.9,357.8 L520.4,358.4 L520.9,365 L521.4,367.6 L521.9,353.6 L522.4,367.6 L522.9,366.2 L523.4,363 L523.9,360.9 L524.4,367.6 L524.9,359.5 L525.4,357 L525.9,359.6 L526.4,353 L526.9,361 L527.4,358.4 L527.9,360.2 L528.4,360.3 L528.9,354.1 L529.4,364.3 L529.9,354.2 L530.4,362.3 L530.9,351.5 L531.4,359.9 L531.9,354.7 L532.4,358.3 L532.9,355.3 L533,348.8" stroke="#000" stroke-width="2.4" stroke-dasharray="5 3"/>
</g>
<path d="M133.6,368.1v-12.5M133.6,16.8v12.5M213.7,368.1v-12.5M213.7,16.8v12.5M293.8,368.1v-12.5M293.8,16.8v12.5M373.9,368.1v-12.5M373.9,16.8v12.5M453.9,368.1v-12.5M453.9,16.8v12.5M534,368.1v-12.5M534,16.8v12.5M173.7,368.1v-6M173.7,16.8v6M253.7,368.1v-6M253.7,16.8v6M333.8,368.1v-6M333.8,16.8v6M413.9,368.1v-6M413.9,16.8v6M494,368.1v-6M494,16.8v6M93.6,277.8h13M534,277.8h-13M93.6,147.2h13M534,147.2h-13M93.6,346.1h6.5M534,346.1h-6.5M93.6,329.8h6.5M534,329.8h-6.5M93.6,317.1h6.5M534,317.1h-6.5M93.6,306.8h6.5M534,306.8h-6.5M93.6,298h6.5M534,298h-6.5M93.6,290.5h6.5M534,290.5h-6.5M93.6,283.8h6.5M534,283.8h-6.5M93.6,238.5h6.5M534,238.5h-6.5M93.6,215.5h6.5M534,215.5h-6.5M93.6,199.2h6.5M534,199.2h-6.5M93.6,186.5h6.5M534,186.5h-6.5M93.6,176.2h6.5M534,176.2h-6.5M93.6,167.4h6.5M534,167.4h-6.5M93.6,159.9h6.5M534,159.9h-6.5M93.6,153.2h6.5M534,153.2h-6.5M93.6,107.9h6.5M534,107.9h-6.5M93.6,84.9h6.5M534,84.9h-6.5M93.6,68.6h6.5M534,68.6h-6.5M93.6,55.9h6.5M534,55.9h-6.5M93.6,45.6h6.5M534,45.6h-6.5M93.6,36.8h6.5M534,36.8h-6.5M93.6,29.3h6.5M534,29.3h-6.5M93.6,22.6h6.5M534,22.6h-6.5" stroke="#000" stroke-width="2" fill="none"/>
<rect x="93.6" y="16.8" width="440.4" height="351.3" fill="none" stroke="#000" stroke-width="2.2"/>
<path d="M338.6,46.1H389" stroke="#0000ff" stroke-width="2.3"/>
<path d="M338.6,73.2H384" stroke="#000" stroke-width="2" stroke-dasharray="5 3"/>
<path d="M170.7,201.1L137.2,226.4" stroke="#000" stroke-width="1.6"/><path d="M129.2,232.4L136.8,222.5L137.3,226.3L140.8,227.8Z" fill="#000"/>
<path d="M238.1,219L262.5,262.1" stroke="#000" stroke-width="1.6"/><path d="M267.4,270.8L258.6,262L262.4,261.9L264.4,258.7Z" fill="#000"/>
<path d="M339.7,249L288.6,295.7" stroke="#000" stroke-width="1.6"/><path d="M281.2,302.4L287.8,291.9L288.7,295.5L292.3,296.7Z" fill="#000"/>
<path d="M410.7,249.4L439.7,294" stroke="#000" stroke-width="1.6"/><path d="M445.1,302.4L435.8,294.1L439.5,293.8L441.3,290.5Z" fill="#000"/>
<clipPath id="c1_1"><rect x="48.3" y="8.8" width="14" height="14"/><rect x="54" y="22.3" width="2.7" height="4"/></clipPath><text clip-path="url(#c1_1)" x="49.3" y="24.8" font-family="Liberation Sans, Arial, sans-serif" font-size="20" font-weight="bold" fill="#000">1</text>
<text x="60.1" y="24.8" font-family="Liberation Sans, Arial, sans-serif" font-size="20" font-weight="bold" fill="#000" >0</text>
<text x="72.2" y="15.6" font-family="Liberation Sans, Arial, sans-serif" font-size="12.5" font-weight="bold" fill="#000" >5</text>
<clipPath id="c1_2"><rect x="48.3" y="139" width="14" height="14"/><rect x="54" y="152.5" width="2.7" height="4"/></clipPath><text clip-path="url(#c1_2)" x="49.3" y="155" font-family="Liberation Sans, Arial, sans-serif" font-size="20" font-weight="bold" fill="#000">1</text>
<text x="60.1" y="155" font-family="Liberation Sans, Arial, sans-serif" font-size="20" font-weight="bold" fill="#000" >0</text>
<text x="72.2" y="145.8" font-family="Liberation Sans, Arial, sans-serif" font-size="12.5" font-weight="bold" fill="#000" >4</text>
<clipPath id="c1_3"><rect x="48.3" y="269.5" width="14" height="14"/><rect x="54" y="283" width="2.7" height="4"/></clipPath><text clip-path="url(#c1_3)" x="49.3" y="285.5" font-family="Liberation Sans, Arial, sans-serif" font-size="20" font-weight="bold" fill="#000">1</text>
<text x="60.1" y="285.5" font-family="Liberation Sans, Arial, sans-serif" font-size="20" font-weight="bold" fill="#000" >0</text>
<text x="72.2" y="276.3" font-family="Liberation Sans, Arial, sans-serif" font-size="12.5" font-weight="bold" fill="#000" >3</text>
<text x="133.6" y="399.3" font-family="Liberation Sans, Arial, sans-serif" font-size="20" font-weight="bold" fill="#000" text-anchor="middle">20</text>
<text x="213.7" y="399.3" font-family="Liberation Sans, Arial, sans-serif" font-size="20" font-weight="bold" fill="#000" text-anchor="middle">30</text>
<text x="293.8" y="399.3" font-family="Liberation Sans, Arial, sans-serif" font-size="20" font-weight="bold" fill="#000" text-anchor="middle">40</text>
<text x="373.9" y="399.3" font-family="Liberation Sans, Arial, sans-serif" font-size="20" font-weight="bold" fill="#000" text-anchor="middle">50</text>
<text x="453.9" y="399.3" font-family="Liberation Sans, Arial, sans-serif" font-size="20" font-weight="bold" fill="#000" text-anchor="middle">60</text>
<text x="534" y="399.3" font-family="Liberation Sans, Arial, sans-serif" font-size="20" font-weight="bold" fill="#000" text-anchor="middle">70</text>
<text x="24.2" y="184.9" font-family="Liberation Sans, Arial, sans-serif" font-size="23" font-weight="bold" fill="#000" text-anchor="middle" transform="rotate(-90 24.2 184.9)">Counts (arb.u.)</text>
<text x="265.5" y="440" font-family="Liberation Sans, Arial, sans-serif" font-size="22" font-weight="bold" fill="#000" >2θ / ω&#160; (°)</text>
<text x="393.6" y="53.1" font-family="Liberation Sans, Arial, sans-serif" font-size="22" font-weight="bold" fill="#000" >As-recieved</text>
<text x="394.6" y="80.4" font-family="Liberation Sans, Arial, sans-serif" font-size="22" font-weight="bold" fill="#000" >Degraded</text>
<text transform="matrix(0.1734 0 0 0.1789 164.9 49.3)" font-family="Liberation Sans, Arial, sans-serif" font-size="100" font-weight="bold" fill="#0000ff" >ε</text><text transform="matrix(0.2304 0 0 0.1729 172.9 49.5)" font-family="Liberation Sans, Arial, sans-serif" font-size="100" font-weight="normal" fill="#0000ff" stroke="#0000ff" stroke-width="0.05">/</text><text transform="matrix(0.2319 0 0 0.1817 178.6 49.5)" font-family="Liberation Sans, Arial, sans-serif" font-size="100" font-weight="bold" fill="#0000ff" >κ</text><text font-family="Liberation Sans, Arial, sans-serif" font-size="20" font-weight="bold" fill="#0000ff"><tspan x="191.7" y="49.8">-</tspan><tspan x="198.5" y="49.8">G</tspan><tspan x="212.9" y="49.8">a</tspan><tspan x="225.1" y="54.7" font-size="12">2</tspan><tspan x="232.4" y="49.8">O</tspan><tspan x="248.8" y="54.7" font-size="12">3</tspan></text>
<text transform="matrix(0.1734 0 0 0.1789 361.8 118.4)" font-family="Liberation Sans, Arial, sans-serif" font-size="100" font-weight="bold" fill="#0000ff" >ε</text><text transform="matrix(0.2304 0 0 0.1729 369.8 118.6)" font-family="Liberation Sans, Arial, sans-serif" font-size="100" font-weight="normal" fill="#0000ff" stroke="#0000ff" stroke-width="0.05">/</text><text transform="matrix(0.2319 0 0 0.1817 375.5 118.6)" font-family="Liberation Sans, Arial, sans-serif" font-size="100" font-weight="bold" fill="#0000ff" >κ</text><text font-family="Liberation Sans, Arial, sans-serif" font-size="20" font-weight="bold" fill="#0000ff"><tspan x="388.6" y="118.9">-</tspan><tspan x="395.4" y="118.9">G</tspan><tspan x="409.8" y="118.9">a</tspan><tspan x="422" y="123.8" font-size="12">2</tspan><tspan x="429.3" y="118.9">O</tspan><tspan x="445.7" y="123.8" font-size="12">3</tspan></text>
<text x="104" y="79.5" font-family="Liberation Sans, Arial, sans-serif" font-size="20" font-weight="bold" fill="#0000ff" >0002/002</text>
<text x="232.4" y="79.4" font-family="Liberation Sans, Arial, sans-serif" font-size="20" font-weight="bold" fill="#0000ff" >0004/004</text>
<text x="364.3" y="147.9" font-family="Liberation Sans, Arial, sans-serif" font-size="19.7" font-weight="bold" fill="#0000ff" >0006/006</text>
<text transform="matrix(0.1780 0 0 0.1953 150.1 167.7)" font-family="Liberation Sans, Arial, sans-serif" font-size="100" font-weight="normal" fill="#000"  stroke="#000" stroke-width="2.68">β</text><text transform="matrix(0.1761 0 0 0.2048 160.7 168.2)" font-family="Liberation Sans, Arial, sans-serif" font-size="100" font-weight="normal" fill="#000"  stroke="#000" stroke-width="2.63">-</text><text transform="matrix(0.1884 0 0 0.1949 166.4 168)" font-family="Liberation Sans, Arial, sans-serif" font-size="100" font-weight="normal" fill="#000"  stroke="#000" stroke-width="2.61">G</text><text transform="matrix(0.1830 0 0 0.1789 180.3 168)" font-family="Liberation Sans, Arial, sans-serif" font-size="100" font-weight="normal" fill="#000"  stroke="#000" stroke-width="2.76">a</text><text transform="matrix(0.1361 0 0 0.1117 190.9 172.2)" font-family="Liberation Sans, Arial, sans-serif" font-size="100" font-weight="normal" fill="#000"  stroke="#000" stroke-width="4.04">2</text><text transform="matrix(0.1802 0 0 0.1949 198.2 167.8)" font-family="Liberation Sans, Arial, sans-serif" font-size="100" font-weight="normal" fill="#000"  stroke="#000" stroke-width="2.67">O</text><text transform="matrix(0.1329 0 0 0.1102 212.7 172.3)" font-family="Liberation Sans, Arial, sans-serif" font-size="100" font-weight="normal" fill="#000"  stroke="#000" stroke-width="4.11">3</text>
<text transform="matrix(0.1780 0 0 0.1953 337.3 216)" font-family="Liberation Sans, Arial, sans-serif" font-size="100" font-weight="normal" fill="#000"  stroke="#000" stroke-width="2.68">β</text><text transform="matrix(0.1761 0 0 0.2048 347.9 216.5)" font-family="Liberation Sans, Arial, sans-serif" font-size="100" font-weight="normal" fill="#000"  stroke="#000" stroke-width="2.63">-</text><text transform="matrix(0.1884 0 0 0.1949 353.6 216.3)" font-family="Liberation Sans, Arial, sans-serif" font-size="100" font-weight="normal" fill="#000"  stroke="#000" stroke-width="2.61">G</text><text transform="matrix(0.1830 0 0 0.1789 367.5 216.3)" font-family="Liberation Sans, Arial, sans-serif" font-size="100" font-weight="normal" fill="#000"  stroke="#000" stroke-width="2.76">a</text><text transform="matrix(0.1361 0 0 0.1117 378.1 220.5)" font-family="Liberation Sans, Arial, sans-serif" font-size="100" font-weight="normal" fill="#000"  stroke="#000" stroke-width="4.04">2</text><text transform="matrix(0.1802 0 0 0.1949 385.4 216.1)" font-family="Liberation Sans, Arial, sans-serif" font-size="100" font-weight="normal" fill="#000"  stroke="#000" stroke-width="2.67">O</text><text transform="matrix(0.1329 0 0 0.1102 399.9 220.6)" font-family="Liberation Sans, Arial, sans-serif" font-size="100" font-weight="normal" fill="#000"  stroke="#000" stroke-width="4.11">3</text>
<text font-family="Liberation Sans, Arial, sans-serif" font-size="18" font-weight="bold" fill="#000"><tspan x="150.2" y="194.7">−</tspan><tspan x="160.7" y="194.7">2</tspan><tspan x="175.8" y="194.7">0</tspan></text><clipPath id="c1_4"><rect x="190.7" y="180.3" width="12.6" height="12.6"/><rect x="195.9" y="192.4" width="2.5" height="3.8"/></clipPath><text clip-path="url(#c1_4)" x="191.7" y="194.7" font-family="Liberation Sans, Arial, sans-serif" font-size="18" font-weight="bold" fill="#000">1</text>
<text font-family="Liberation Sans, Arial, sans-serif" font-size="18" font-weight="bold" fill="#000"><tspan x="210.2" y="214">−</tspan><tspan x="221.1" y="214">3</tspan><tspan x="251.7" y="214">0</tspan></text><clipPath id="c1_5"><rect x="235" y="199.6" width="12.6" height="12.6"/><rect x="240.2" y="211.7" width="2.5" height="3.8"/></clipPath><text clip-path="url(#c1_5)" x="236" y="214" font-family="Liberation Sans, Arial, sans-serif" font-size="18" font-weight="bold" fill="#000">1</text>
<text font-family="Liberation Sans, Arial, sans-serif" font-size="18" font-weight="bold" fill="#000"><tspan x="314.2" y="242.9">−</tspan><tspan x="325" y="242.9">4</tspan><tspan x="340.9" y="242.9">0</tspan><tspan x="356.3" y="242.9">2</tspan></text>
<text font-family="Liberation Sans, Arial, sans-serif" font-size="18" font-weight="bold" fill="#000"><tspan x="381.7" y="242.9">−</tspan><tspan x="392.6" y="242.9">6</tspan><tspan x="408.9" y="242.9">0</tspan><tspan x="423.9" y="242.9">3</tspan></text>
</svg></body></html>
